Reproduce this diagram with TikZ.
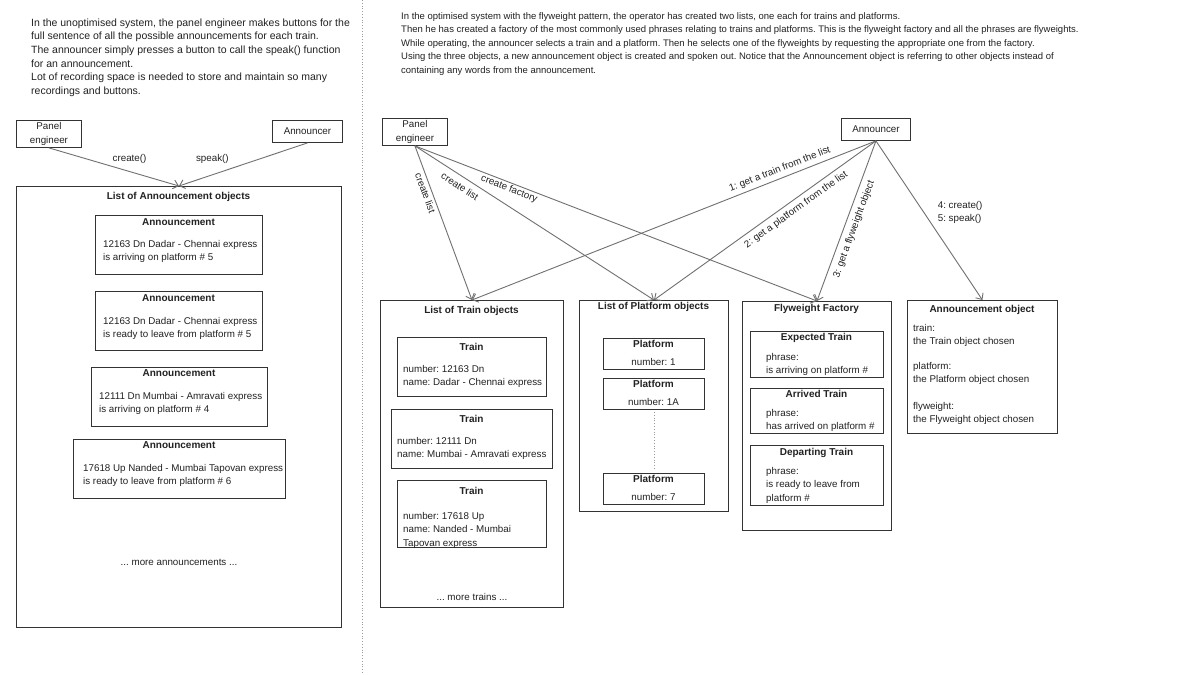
\documentclass[tikz,border=0pt]{standalone}
\usepackage{fontspec}
\setmainfont{Liberation Sans}
\usetikzlibrary{arrows.meta}
\definecolor{lc}{HTML}{707070}
\definecolor{bc}{HTML}{333333}
\definecolor{tc}{HTML}{222222}
\frenchspacing
\newcommand\fsbox{\fontsize{9.8}{13.5}\selectfont}
\newcommand\fsttl{\fontsize{10}{13.5}\selectfont}
\newcommand\fsleftd{\fontsize{10.5}{13.6}\selectfont}
\newcommand\fsrightd{\fontsize{9.5}{13.5}\selectfont}
\begin{document}
\begin{tikzpicture}[x=1pt,y=-1pt,
  box/.style={draw=bc, line width=0.9pt, inner sep=0pt, anchor=north west},
  boxt/.style={box, font=\fsbox, text=tc, align=center},
  ttl/.style={font=\fsttl\bfseries, text=tc, anchor=base, inner sep=0pt},
  txt/.style={font=\fsbox, text=tc, anchor=north west, align=left, inner sep=0pt, yshift=9.45pt},
  ctr/.style={font=\fsbox, text=tc, anchor=base, inner sep=0pt},
  conn/.style={draw=lc, line width=0.9pt, -{Straight Barb[length=5pt,width=9pt]}},
  lbl/.style={font=\fsbox, text=tc, inner sep=1.5pt},
  sep/.style={draw=lc!70, line width=0.8pt, dotted},
]
\fill[white] (0,0) rectangle (1200,675);
\useasboundingbox (0,0) rectangle (1200,675);

% ---------- left description ----------
\node[txt, font=\fsleftd, yshift=0.07pt] (ldesc) at (31,26) {\strut In the unoptimised system, the panel engineer makes buttons for the\\
full sentence of all the possible announcements for each train.\\
The announcer simply presses a button to call the speak() function\\
for an announcement.\\
Lot of recording space is needed to store and maintain so many\\
recordings and buttons.};

% ---------- left diagram ----------
\node[boxt, minimum width=65pt, minimum height=27pt] (pe1) at (16,120) {Panel\\engineer};
\node[boxt, minimum width=70pt, minimum height=22pt] (an1) at (272,120) {Announcer};
\node[box, minimum width=325pt, minimum height=441pt] (alist) at (16,186) {};
\node[ttl] (alistt) at (178.5,199) {List of Announcement objects};

\node[box, minimum width=167pt, minimum height=59pt] (a1) at (95,215) {};
\node[ttl] (a1t) at (178.5,225) {Announcement};
\node[txt] (a1x) at (103,247) {\strut 12163 Dn Dadar - Chennai express\\is arriving on platform \# 5};

\node[box, minimum width=167pt, minimum height=59pt] (a2) at (95,291) {};
\node[ttl] (a2t) at (178.5,301) {Announcement};
\node[txt] (a2x) at (103,324) {\strut 12163 Dn Dadar - Chennai express\\is ready to leave from platform \# 5};

\node[box, minimum width=176pt, minimum height=59pt] (a3) at (91,367) {};
\node[ttl] (a3t) at (179,376) {Announcement};
\node[txt] (a3x) at (99,399) {\strut 12111 Dn Mumbai - Amravati express\\is arriving on platform \# 4};

\node[box, minimum width=212pt, minimum height=59pt] (a4) at (73,439) {};
\node[ttl] (a4t) at (179,448) {Announcement};
\node[txt] (a4x) at (83,471) {\strut 17618 Up Nanded - Mumbai Tapovan express\\is ready to leave from platform \# 6};

\node[ctr] (amore) at (179,565) {... more announcements ...};

\draw[conn] (pe1.south) -- node[lbl, pos=0.62, above=6pt] (lc1) {create()} (alist.north);
\draw[conn] (an1.south) -- node[lbl, pos=0.74, above=9pt] (lc2) {speak()} (alist.north);

% ---------- separator ----------
\coordinate (s1) at (362,0);
\coordinate (s2) at (362,675);
\draw[sep] (s1) -- (s2);

% ---------- right description ----------
\node[txt, font=\fsrightd] (rdesc) at (401,19) {\strut In the optimised system with the flyweight pattern, the operator has created two lists, one each for trains and platforms.\\
Then he has created a factory of the most commonly used phrases relating to trains and platforms. This is the flyweight factory and all the phrases are flyweights.\\
While operating, the announcer selects a train and a platform. Then he selects one of the flyweights by requesting the appropriate one from the factory.\\
Using the three objects, a new announcement object is created and spoken out. Notice that the Announcement object is referring to other objects instead of\\
containing any words from the announcement.};

% ---------- right diagram ----------
\node[boxt, minimum width=65pt, minimum height=27pt] (pe2) at (382,118) {Panel\\engineer};
\node[boxt, minimum width=69pt, minimum height=22pt] (an2) at (841,118) {Announcer};

% trains
\node[box, minimum width=183pt, minimum height=307pt] (tlist) at (380,300) {};
\node[ttl] (tlistt) at (471.5,313) {List of Train objects};
\node[box, minimum width=149pt, minimum height=59pt] (t1) at (397,337) {};
\node[ttl] (t1t) at (471.5,350) {Train};
\node[txt] (t1x) at (403,372) {\strut number: 12163 Dn\\name: Dadar - Chennai express};
\node[box, minimum width=161pt, minimum height=59pt] (t2) at (391,409) {};
\node[ttl] (t2t) at (471.5,422) {Train};
\node[txt] (t2x) at (397,444) {\strut number: 12111 Dn\\name: Mumbai - Amravati express};
\node[box, minimum width=149pt, minimum height=67pt] (t3) at (397,480) {};
\node[ttl] (t3t) at (471.5,494) {Train};
\node[txt] (t3x) at (403,519) {\strut number: 17618 Up\\name: Nanded - Mumbai\\Tapovan express};
\node[ctr] (tmore) at (472,600) {... more trains ...};

% platforms
\node[box, minimum width=149pt, minimum height=211pt] (plist) at (579,300) {};
\node[ttl] (plistt) at (653.5,309) {List of Platform objects};
\node[box, minimum width=101pt, minimum height=31pt] (p1) at (603,338) {};
\node[ttl] (p1t) at (653.5,347) {Platform};
\node[ctr] (p1x) at (653.5,365) {number: 1};
\node[box, minimum width=101pt, minimum height=31pt] (p2) at (603,378) {};
\node[ttl] (p2t) at (653.5,387) {Platform};
\node[ctr] (p2x) at (653.5,405) {number: 1A};
\node[box, minimum width=101pt, minimum height=31pt] (p7) at (603,473) {};
\node[ttl] (p7t) at (653.5,482) {Platform};
\node[ctr] (p7x) at (653.5,500) {number: 7};
\draw[sep, line width=0.6pt, shorten <=2pt, shorten >=3pt] (p2.south) -- (p7.north);

% flyweight factory
\node[box, minimum width=149pt, minimum height=229pt] (ff) at (742,301) {};
\node[ttl] (fft) at (816.5,311) {Flyweight Factory};
\node[box, minimum width=133pt, minimum height=46pt] (f1) at (750,331) {};
\node[ttl] (f1t) at (816.5,340) {Expected Train};
\node[txt] (f1x) at (766,360) {\strut phrase:\\is arriving on platform \#};
\node[box, minimum width=133pt, minimum height=45pt] (f2) at (750,388) {};
\node[ttl] (f2t) at (816.5,397) {Arrived Train};
\node[txt] (f2x) at (766,416) {\strut phrase:\\has arrived on platform \#};
\node[box, minimum width=133pt, minimum height=60pt] (f3) at (750,445) {};
\node[ttl] (f3t) at (816.5,455) {Departing Train};
\node[txt] (f3x) at (766,474) {\strut phrase:\\is ready to leave from\\platform \#};

% announcement object
\node[box, minimum width=150pt, minimum height=133pt] (ao) at (907,300) {};
\node[ttl] (aot) at (982,312) {Announcement object};
\node[txt] (aox1) at (913,331) {\strut train:\\the Train object chosen};
\node[txt] (aox2) at (913,369) {\strut platform:\\the Platform object chosen};
\node[txt] (aox3) at (913,409) {\strut flyweight:\\the Flyweight object chosen};

% connectors
\draw[conn] (pe2.south) -- node[lbl, sloped, pos=0.29, below=1pt] (r1) {create list} (tlist.north);
\draw[conn] (pe2.south) -- node[lbl, sloped, pos=0.21, below=4pt] (r2) {create list} (plist.north);
\draw[conn] (pe2.south) -- node[lbl, sloped, pos=0.24, below=0pt] (r3) {create factory} (ff.north);
\draw[conn] (an2.south) -- node[lbl, sloped, pos=0.23, above=2pt] (r4) {1: get a train from the list} (tlist.north);
\draw[conn] (an2.south) -- node[lbl, sloped, pos=0.385, below=3pt] (r5) {2: get a platform from the list} (plist.north);
\draw[conn] (an2.south) -- node[lbl, sloped, pos=0.53, below=3.5pt] (r6) {3: get a flyweight object} (ff.north);
\draw[conn] (an2.south) -- node[lbl, pos=0.45, anchor=west, xshift=12pt, align=left] (r7) {4: create()\\5: speak()} (ao.north);
\end{tikzpicture}
\end{document}
